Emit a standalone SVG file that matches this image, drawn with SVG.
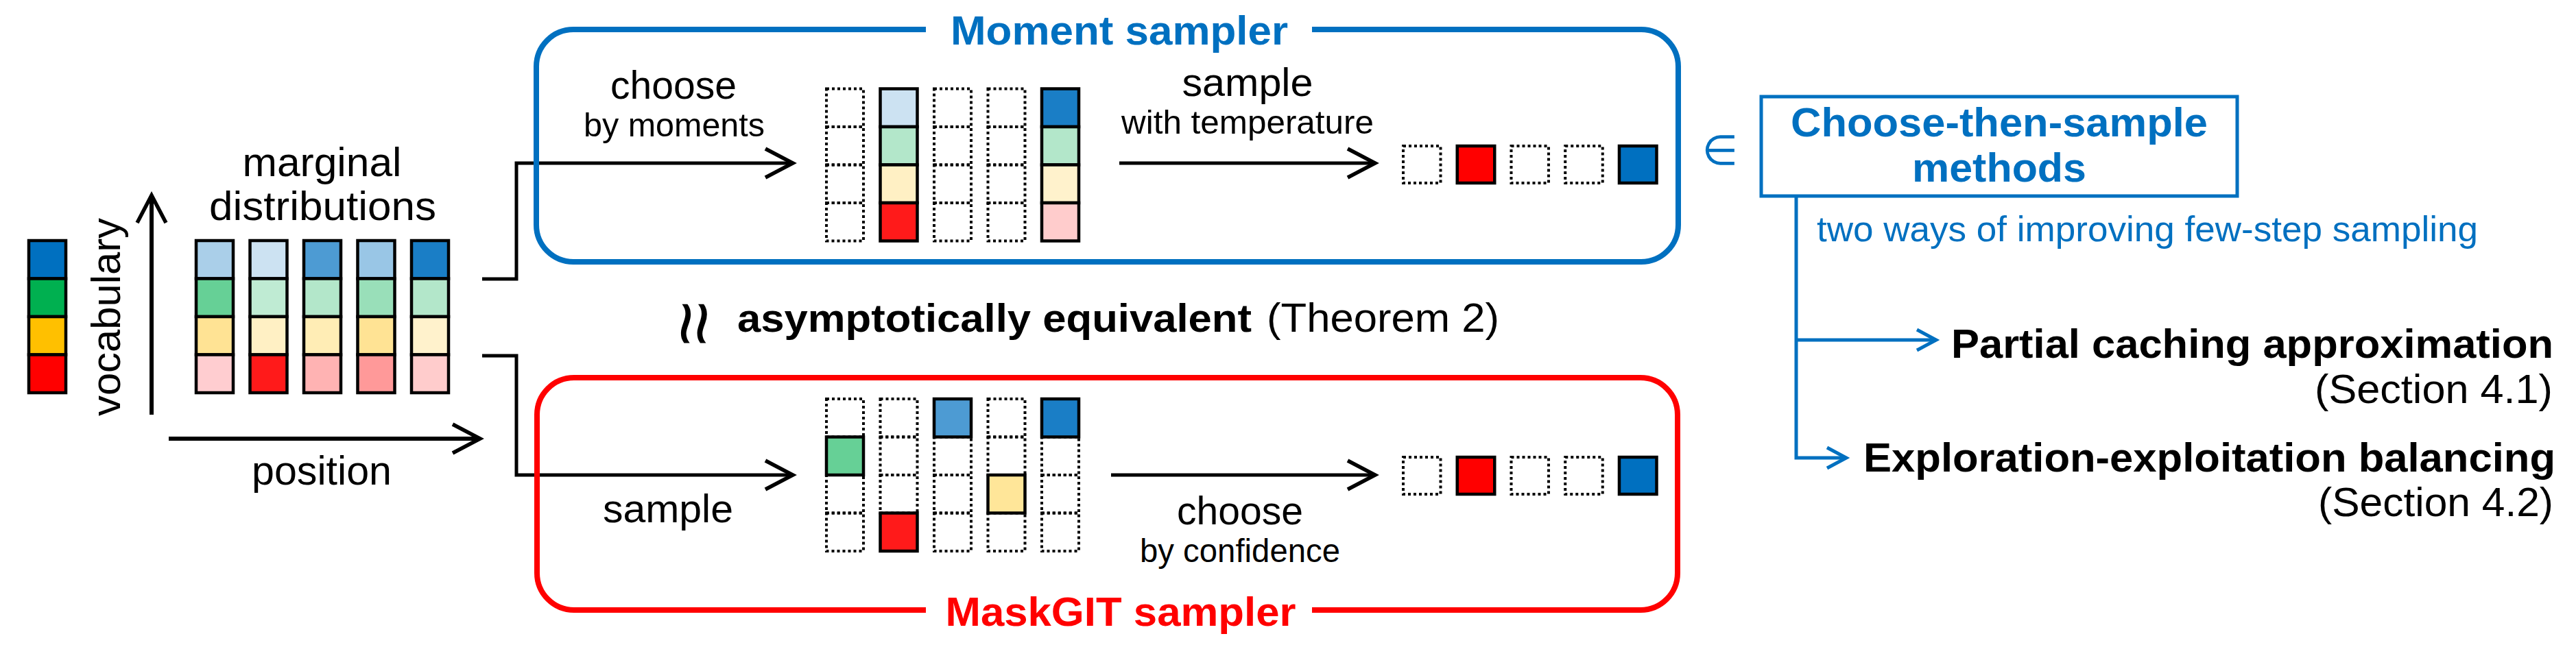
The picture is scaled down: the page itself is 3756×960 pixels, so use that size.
<svg xmlns="http://www.w3.org/2000/svg" width="3756" height="960" viewBox="0 0 3756 960">
<defs>
<style>
.t{font-family:"Liberation Sans",Arial,sans-serif;fill:#000}
.b{font-weight:bold}
.blue{fill:#0070C0}
.red{fill:#FF0000}
.c{stroke:#000;stroke-width:4.5}
.d{fill:none;stroke:#000;stroke-width:4;stroke-dasharray:4 4}
.ln{fill:none;stroke:#000;stroke-width:5}
.ax{fill:none;stroke:#000;stroke-width:6}
.bl{fill:none;stroke:#0070C0;stroke-width:5}
.box{fill:none;stroke-width:8}
</style>
<marker id="ch" markerUnits="userSpaceOnUse" orient="auto" refX="0" refY="0" markerWidth="10" markerHeight="10" overflow="visible">
<path d="M-40,-21 L0,0 L-40,21" fill="none" stroke="#000" stroke-width="5.5"/>
</marker>
<marker id="chb" markerUnits="userSpaceOnUse" orient="auto" refX="0" refY="0" markerWidth="10" markerHeight="10" overflow="visible">
<path d="M-28,-15 L0,0 L-28,15" fill="none" stroke="#0070C0" stroke-width="5"/>
</marker>
</defs>
<rect width="3756" height="960" fill="#fff"/>

<g id="connectors">
<path class="ax" d="M221,605 V285" marker-end="url(#ch)"/>
<path class="ax" d="M246,640 H700" marker-end="url(#ch)"/>
<path class="ln" d="M703,407 H753 V238 H1156" marker-end="url(#ch)"/>
<path class="ln" d="M703,519 H753 V693 H1156" marker-end="url(#ch)"/>
<path class="ln" d="M1632,238 H2005" marker-end="url(#ch)"/>
<path class="ln" d="M1620,693 H2005" marker-end="url(#ch)"/>
<path class="bl" d="M2619,286 V668 H2692" marker-end="url(#chb)"/>
<path class="bl" d="M2619,496 H2823" marker-end="url(#chb)"/>
</g>

<g id="vocab-bar">
<rect class="c" x="42" y="351" width="54" height="55.5" fill="#0070C0"/>
<rect class="c" x="42" y="406.5" width="54" height="55.5" fill="#00B050"/>
<rect class="c" x="42" y="462" width="54" height="55.5" fill="#FFC000"/>
<rect class="c" x="42" y="517.5" width="54" height="55.5" fill="#FF0000"/>
<text class="t" x="175" y="462.5" font-size="60" text-anchor="middle" textLength="289" lengthAdjust="spacingAndGlyphs" transform="rotate(-90 175 462.5)">vocabulary</text>
</g>

<g id="marginal">
<text class="t" x="469.5" y="257" font-size="60" text-anchor="middle" textLength="232" lengthAdjust="spacingAndGlyphs">marginal</text>
<text class="t" x="470.5" y="321" font-size="60" text-anchor="middle" textLength="331" lengthAdjust="spacingAndGlyphs">distributions</text>
<rect class="c" x="286" y="351" width="54" height="55.5" fill="#AACFE9"/>
<rect class="c" x="286" y="406.5" width="54" height="55.5" fill="#66D096"/>
<rect class="c" x="286" y="462" width="54" height="55.5" fill="#FFE394"/>
<rect class="c" x="286" y="517.5" width="54" height="55.5" fill="#FFCDD0"/>
<rect class="c" x="364.5" y="351" width="54" height="55.5" fill="#CCE2F2"/>
<rect class="c" x="364.5" y="406.5" width="54" height="55.5" fill="#BFEBD3"/>
<rect class="c" x="364.5" y="462" width="54" height="55.5" fill="#FFF0C4"/>
<rect class="c" x="364.5" y="517.5" width="54" height="55.5" fill="#FF1A1A"/>
<rect class="c" x="443" y="351" width="54" height="55.5" fill="#4D9BD3"/>
<rect class="c" x="443" y="406.5" width="54" height="55.5" fill="#B3E7CA"/>
<rect class="c" x="443" y="462" width="54" height="55.5" fill="#FFEDB5"/>
<rect class="c" x="443" y="517.5" width="54" height="55.5" fill="#FFB3B3"/>
<rect class="c" x="521.5" y="351" width="54" height="55.5" fill="#99C6E6"/>
<rect class="c" x="521.5" y="406.5" width="54" height="55.5" fill="#99DFB9"/>
<rect class="c" x="521.5" y="462" width="54" height="55.5" fill="#FFE394"/>
<rect class="c" x="521.5" y="517.5" width="54" height="55.5" fill="#FF9999"/>
<rect class="c" x="600" y="351" width="54" height="55.5" fill="#1A7EC6"/>
<rect class="c" x="600" y="406.5" width="54" height="55.5" fill="#B3E7CA"/>
<rect class="c" x="600" y="462" width="54" height="55.5" fill="#FFF2CC"/>
<rect class="c" x="600" y="517.5" width="54" height="55.5" fill="#FFCCCC"/>
<text class="t" x="469" y="707" font-size="60" text-anchor="middle" textLength="204" lengthAdjust="spacingAndGlyphs">position</text>
</g>

<g id="moment-sampler">
<path class="box" stroke="#0070C0" d="M1913,43 H2393 A54,54 0 0 1 2447,97 V328 A54,54 0 0 1 2393,382 H836 A54,54 0 0 1 782,328 V97 A54,54 0 0 1 836,43 H1350"/>
<text class="t b blue" x="1632" y="65" font-size="60" text-anchor="middle" textLength="492" lengthAdjust="spacingAndGlyphs">Moment sampler</text>
<text class="t" x="982" y="144" font-size="58" text-anchor="middle" textLength="184" lengthAdjust="spacingAndGlyphs">choose</text>
<text class="t" x="983" y="199" font-size="48" text-anchor="middle" textLength="264" lengthAdjust="spacingAndGlyphs">by moments</text>
<text class="t" x="1819" y="140" font-size="58" text-anchor="middle" textLength="191" lengthAdjust="spacingAndGlyphs">sample</text>
<text class="t" x="1819" y="195" font-size="48" text-anchor="middle" textLength="368" lengthAdjust="spacingAndGlyphs">with temperature</text>
<g>
<rect class="d" x="1205" y="129.5" width="54" height="55.5"/>
<rect class="d" x="1205" y="185" width="54" height="55.5"/>
<rect class="d" x="1205" y="240.5" width="54" height="55.5"/>
<rect class="d" x="1205" y="296" width="54" height="55.5"/>
<rect class="d" x="1362" y="129.5" width="54" height="55.5"/>
<rect class="d" x="1362" y="185" width="54" height="55.5"/>
<rect class="d" x="1362" y="240.5" width="54" height="55.5"/>
<rect class="d" x="1362" y="296" width="54" height="55.5"/>
<rect class="d" x="1440.5" y="129.5" width="54" height="55.5"/>
<rect class="d" x="1440.5" y="185" width="54" height="55.5"/>
<rect class="d" x="1440.5" y="240.5" width="54" height="55.5"/>
<rect class="d" x="1440.5" y="296" width="54" height="55.5"/>
<rect class="c" x="1283.5" y="129.5" width="54" height="55.5" fill="#CCE2F2"/>
<rect class="c" x="1283.5" y="185" width="54" height="55.5" fill="#B3E7CA"/>
<rect class="c" x="1283.5" y="240.5" width="54" height="55.5" fill="#FFF0C4"/>
<rect class="c" x="1283.5" y="296" width="54" height="55.5" fill="#FF1A1A"/>
<rect class="c" x="1519" y="129.5" width="54" height="55.5" fill="#1A7EC6"/>
<rect class="c" x="1519" y="185" width="54" height="55.5" fill="#B3E7CA"/>
<rect class="c" x="1519" y="240.5" width="54" height="55.5" fill="#FFF2CC"/>
<rect class="c" x="1519" y="296" width="54" height="55.5" fill="#FFCCCC"/>
</g>
<g>
<rect class="d" x="2046" y="213" width="54.5" height="54"/>
<rect class="c" x="2124.75" y="213" width="54.5" height="54" fill="#FF0000"/>
<rect class="d" x="2203.5" y="213" width="54.5" height="54"/>
<rect class="d" x="2282.25" y="213" width="54.5" height="54"/>
<rect class="c" x="2361" y="213" width="54.5" height="54" fill="#0070C0"/>
</g>
</g>

<g id="equivalence">
<text x="0" y="39" font-family="Liberation Sans, Arial, sans-serif" font-size="115" text-anchor="middle" transform="translate(1013 472) rotate(90)">≈</text>
<text class="t b" x="1075" y="484" font-size="58" textLength="750" lengthAdjust="spacingAndGlyphs">asymptotically equivalent</text>
<text class="t" x="1847" y="484" font-size="60" textLength="339" lengthAdjust="spacingAndGlyphs">(Theorem 2)</text>
</g>

<g id="maskgit-sampler">
<path class="box" stroke="#FF0000" d="M1350,890 H837 A54,54 0 0 1 783,836 V605 A54,54 0 0 1 837,551 H2392 A54,54 0 0 1 2446,605 V836 A54,54 0 0 1 2392,890 H1913"/>
<text class="t b red" x="1634" y="913" font-size="60" text-anchor="middle" textLength="511" lengthAdjust="spacingAndGlyphs">MaskGIT sampler</text>
<text class="t" x="974" y="762" font-size="58" text-anchor="middle" textLength="190" lengthAdjust="spacingAndGlyphs">sample</text>
<text class="t" x="1808" y="765" font-size="58" text-anchor="middle" textLength="184" lengthAdjust="spacingAndGlyphs">choose</text>
<text class="t" x="1808" y="820" font-size="48" text-anchor="middle" textLength="292" lengthAdjust="spacingAndGlyphs">by confidence</text>
<g>
<rect class="d" x="1205" y="582" width="54" height="55.5"/>
<rect class="d" x="1205" y="693" width="54" height="55.5"/>
<rect class="d" x="1205" y="748.5" width="54" height="55.5"/>
<rect class="d" x="1283.5" y="582" width="54" height="55.5"/>
<rect class="d" x="1283.5" y="637.5" width="54" height="55.5"/>
<rect class="d" x="1283.5" y="693" width="54" height="55.5"/>
<rect class="d" x="1362" y="637.5" width="54" height="55.5"/>
<rect class="d" x="1362" y="693" width="54" height="55.5"/>
<rect class="d" x="1362" y="748.5" width="54" height="55.5"/>
<rect class="d" x="1440.5" y="582" width="54" height="55.5"/>
<rect class="d" x="1440.5" y="637.5" width="54" height="55.5"/>
<rect class="d" x="1440.5" y="748.5" width="54" height="55.5"/>
<rect class="d" x="1519" y="637.5" width="54" height="55.5"/>
<rect class="d" x="1519" y="693" width="54" height="55.5"/>
<rect class="d" x="1519" y="748.5" width="54" height="55.5"/>
<rect class="c" x="1205" y="637.5" width="54" height="55.5" fill="#66D096"/>
<rect class="c" x="1283.5" y="748.5" width="54" height="55.5" fill="#FF1A1A"/>
<rect class="c" x="1362" y="582" width="54" height="55.5" fill="#4D9BD3"/>
<rect class="c" x="1440.5" y="693" width="54" height="55.5" fill="#FFE699"/>
<rect class="c" x="1519" y="582" width="54" height="55.5" fill="#1A7EC6"/>
</g>
<g>
<rect class="d" x="2046" y="667" width="54.5" height="54"/>
<rect class="c" x="2124.75" y="667" width="54.5" height="54" fill="#FF0000"/>
<rect class="d" x="2203.5" y="667" width="54.5" height="54"/>
<rect class="d" x="2282.25" y="667" width="54.5" height="54"/>
<rect class="c" x="2361" y="667" width="54.5" height="54" fill="#0070C0"/>
</g>
</g>

<g id="choose-then-sample">
<text x="2508" y="240" font-family="DejaVu Sans, sans-serif" font-size="60" fill="#0070C0" text-anchor="middle">∈</text>
<rect x="2568" y="141" width="694" height="145" fill="none" stroke="#0070C0" stroke-width="5"/>
<text class="t b blue" x="2915" y="199" font-size="60" text-anchor="middle" textLength="608" lengthAdjust="spacingAndGlyphs">Choose-then-sample</text>
<text class="t b blue" x="2915" y="265" font-size="60" text-anchor="middle" textLength="254" lengthAdjust="spacingAndGlyphs">methods</text>
<text class="t blue" x="2649" y="352" font-size="52" textLength="964" lengthAdjust="spacingAndGlyphs">two ways of improving few-step sampling</text>
</g>

<g id="partial-caching">
<text class="t b" x="3723" y="522" font-size="60" text-anchor="end" textLength="878" lengthAdjust="spacingAndGlyphs">Partial caching approximation</text>
<text class="t" x="3722" y="588" font-size="60" text-anchor="end" textLength="347" lengthAdjust="spacingAndGlyphs">(Section 4.1)</text>
</g>

<g id="exploration-exploitation">
<text class="t b" x="3726" y="688" font-size="60" text-anchor="end" textLength="1009" lengthAdjust="spacingAndGlyphs">Exploration-exploitation balancing</text>
<text class="t" x="3723" y="753" font-size="60" text-anchor="end" textLength="343" lengthAdjust="spacingAndGlyphs">(Section 4.2)</text>
</g>
</svg>
